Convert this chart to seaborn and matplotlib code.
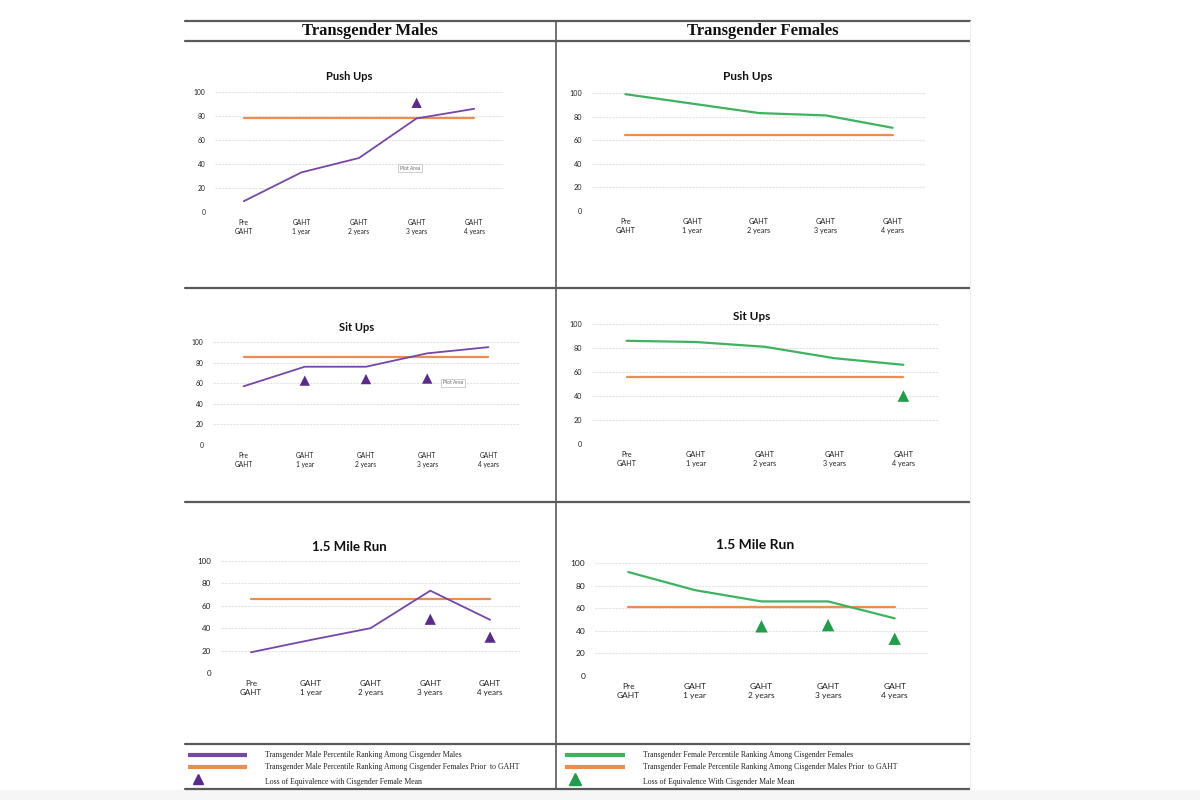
"""Percentile rankings of transgender males / females before and after GAHT."""

import numpy as np
import matplotlib
matplotlib.use('Agg')
import matplotlib.pyplot as plt
from matplotlib.lines import Line2D
from matplotlib.patches import Rectangle
import seaborn as sns


# ---- data ----
STAGES = ['Pre\nGAHT', 'GAHT\n1 year', 'GAHT\n2 years', 'GAHT\n3 years', 'GAHT\n4 years']
Y_TICKS = [0, 20, 40, 60, 80, 100]

tm_push = [9, 33, 45, 78, 86]
tm_push_ref = 78
tm_push_loss = [np.nan, np.nan, np.nan, 91, np.nan]

tm_sit = [57, 76, 76, 89, 95]
tm_sit_ref = 85
tm_sit_loss = [np.nan, 62.5, 64, 64.5, np.nan]

tm_run = [18.5, 29.5, 40, 73.5, 47.5]
tm_run_ref = 66
tm_run_loss = [np.nan, np.nan, np.nan, 48, 32]

tf_push = [99, 91, 83, 81, 70.5]
tf_push_ref = 64
tf_push_loss = [np.nan] * 5

tf_sit = [86, 85, 81, 71.5, 66]
tf_sit_ref = 56
tf_sit_loss = [np.nan, np.nan, np.nan, np.nan, 40]

tf_run = [92, 76, 66, 66, 51]
tf_run_ref = 61
tf_run_loss = [np.nan, np.nan, 44, 45, 33]

HEADERS = ['Transgender Males', 'Transgender Females']
LEGEND_M = ['Transgender Male Percentile Ranking Among Cisgender Males',
            'Transgender Male Percentile Ranking Among Cisgender Females Prior  to GAHT',
            'Loss of Equivalence with Cisgender Female Mean']
LEGEND_F = ['Transgender Female Percentile Ranking Among Cisgender Females',
            'Transgender Female Percentile Ranking Among Cisgender Males Prior  to GAHT',
            'Loss of Equivalence With Cisgender Male Mean']

PURPLE = '#7447A8'
PURPLE_DARK = '#5A2A8C'
GREEN = '#3DB35F'
GREEN_DARK = '#1E9E48'
ORANGE = '#EE8C4E'

W, H = 1200, 800

sns.set_theme(style='white')
plt.rcParams['font.family'] = ['Lato', 'DejaVu Sans']


def px_box(left, right, y0, y100):
    """Pixel coordinates of the plot area -> figure fraction rect."""
    return [left / W, 1 - y0 / H, (right - left) / W, (y0 - y100) / H]


def fx(x):
    return x / W


def fy(y):
    return 1 - y / H


def draw_panel(fig, box, values, ref, loss, color, tri_color, tri_size,
               lw, tick_size, title, title_xy, title_size):
    ax = fig.add_axes(px_box(*box))
    idx = np.arange(len(STAGES))
    sns.lineplot(x=idx, y=[ref] * len(STAGES), ax=ax, color=ORANGE,
                 linewidth=1.6, zorder=2)
    sns.lineplot(x=idx, y=values, ax=ax, color=color, linewidth=lw, zorder=3)
    sns.scatterplot(x=idx, y=loss, ax=ax, marker='^', s=tri_size,
                    color=tri_color, edgecolor='none', zorder=4)
    ax.set_xlim(-0.5, len(STAGES) - 0.5)
    ax.set_ylim(0, 100)
    ax.set_yticks(Y_TICKS)
    ax.set_yticklabels([str(t) for t in Y_TICKS], fontsize=tick_size, color='#222222')
    ax.set_xticks(idx)
    ax.set_xticklabels(STAGES, fontsize=tick_size, color='#222222', linespacing=1.3)
    ax.tick_params(axis='both', length=0)
    ax.tick_params(axis='x', pad=5)
    ax.tick_params(axis='y', pad=7)
    for sp in ax.spines.values():
        sp.set_visible(False)
    ax.grid(axis='y', color='#e3e3e3', linewidth=0.8, linestyle=(0, (2, 1)))
    ax.set_axisbelow(True)
    ax.patch.set_alpha(0)
    for ln in ax.get_lines():
        ln.set_clip_on(False)
    fig.text(fx(title_xy[0]), fy(title_xy[1]), title, ha='center', va='center',
             fontsize=title_size, fontweight='bold', color='#111111')
    return ax


def plot_area_tag(fig, x, y):
    fig.text(fx(x), fy(y), 'Plot Area', ha='center', va='center', fontsize=3.5,
             color='#666666',
             bbox=dict(boxstyle='square,pad=0.3', fc='white', ec='#bbbbbb', lw=0.5))


fig = plt.figure(figsize=(W / 100, H / 100), dpi=100)
fig.patch.set_facecolor('white')

# transgender males (left column)
draw_panel(fig, (215, 503, 212, 92), tm_push, tm_push_ref, tm_push_loss,
           PURPLE, PURPLE_DARK, 55, 1.3, 4.8, 'Push Ups', (349, 77), 8)
draw_panel(fig, (213, 519, 445, 342), tm_sit, tm_sit_ref, tm_sit_loss,
           PURPLE, PURPLE_DARK, 55, 1.3, 4.8, 'Sit Ups', (357, 328), 8)
draw_panel(fig, (221, 520, 673, 561), tm_run, tm_run_ref, tm_run_loss,
           PURPLE, PURPLE_DARK, 65, 1.3, 5.8, '1.5 Mile Run', (349, 547), 9.5)

# transgender females (right column)
draw_panel(fig, (592, 926, 211, 93), tf_push, tf_push_ref, tf_push_loss,
           GREEN, GREEN_DARK, 70, 1.6, 5.2, 'Push Ups', (748, 77), 8.5)
draw_panel(fig, (592, 938, 444, 324), tf_sit, tf_sit_ref, tf_sit_loss,
           GREEN, GREEN_DARK, 70, 1.6, 5.2, 'Sit Ups', (752, 317), 8.5)
draw_panel(fig, (595, 928, 676, 563), tf_run, tf_run_ref, tf_run_loss,
           GREEN, GREEN_DARK, 80, 1.6, 6.0, '1.5 Mile Run', (755, 545), 10)

plot_area_tag(fig, 410, 168)
plot_area_tag(fig, 453, 383)

# table frame
line_kw = dict(color='#5a5a5a', linewidth=1.6, transform=fig.transFigure)
for y in [20.5, 41, 288, 502, 744, 789]:
    fig.add_artist(Line2D([fx(185), fx(970)], [fy(y), fy(y)], **line_kw))
fig.add_artist(Line2D([fx(556), fx(556)], [fy(20.5), fy(789)],
                      color='#5a5a5a', linewidth=1.2, transform=fig.transFigure))
fig.add_artist(Line2D([fx(970), fx(970)], [fy(20.5), fy(789)],
                      color='#eeeeee', linewidth=0.8, transform=fig.transFigure))
fig.add_artist(Rectangle((0, 0), 1, fy(790), color='#f6f6f6',
                         transform=fig.transFigure, zorder=-1))

for label, xc in zip(HEADERS, [370, 763]):
    fig.text(fx(xc), fy(31), label, ha='center', va='center', fontsize=12,
             fontweight='bold', family=['Liberation Serif'], color='#111111')

# legend rows
legend_font = dict(fontsize=5.6, family=['Liberation Serif'], color='#222222', va='center')
rows_y = [755, 767, 779]
for x0, x1, tx, main, tri, labels, msize in [
        (188, 247, 265, PURPLE, PURPLE_DARK, LEGEND_M, 7),
        (565, 625, 643, GREEN, GREEN_DARK, LEGEND_F, 9)]:
    fig.add_artist(Line2D([fx(x0), fx(x1)], [fy(rows_y[0])] * 2, color=main,
                          linewidth=3, solid_capstyle='butt', transform=fig.transFigure))
    fig.add_artist(Line2D([fx(x0), fx(x1)], [fy(rows_y[1])] * 2, color=ORANGE,
                          linewidth=3, solid_capstyle='butt', transform=fig.transFigure))
    fig.add_artist(Line2D([fx(x0 + 10)], [fy(rows_y[2])], marker='^', markersize=msize,
                          color=tri, linestyle='none', transform=fig.transFigure))
    for lab, y in zip(labels, rows_y):
        fig.text(fx(tx), fy(y + (3 if y == rows_y[2] else 0)), lab, **legend_font)

fig.savefig('out.png', dpi=100)
